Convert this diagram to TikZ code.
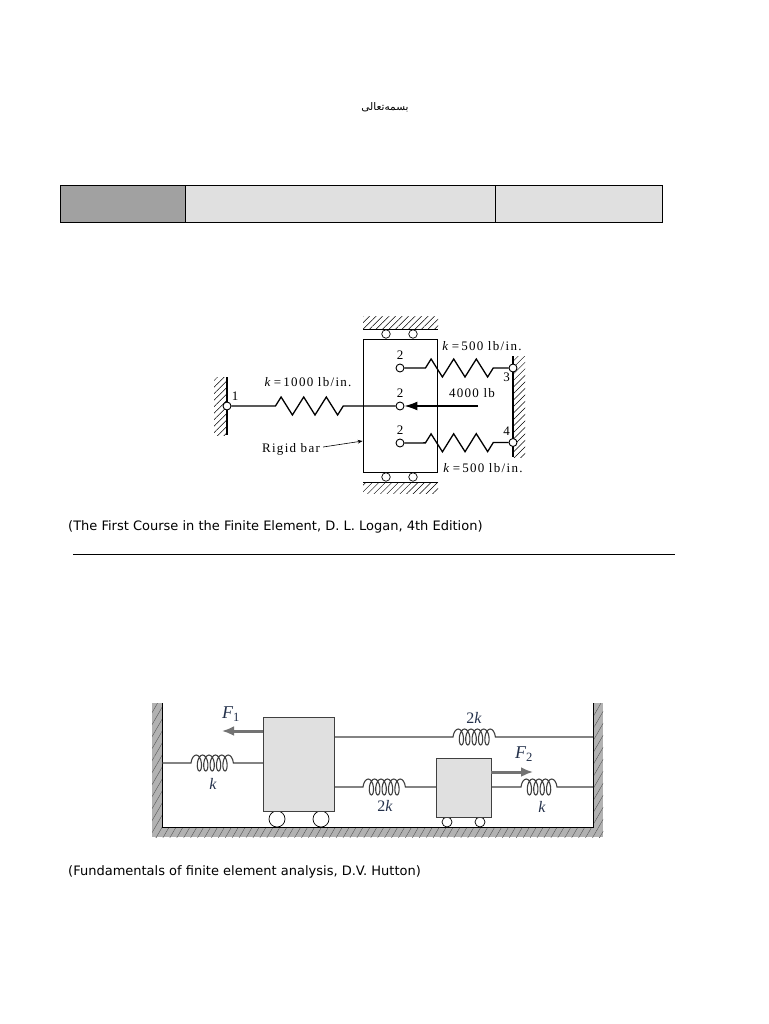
\documentclass[tikz,border=0pt]{standalone}
\usepackage{fontspec}
\usepackage{tikz}
\usetikzlibrary{arrows.meta}
\usetikzlibrary{decorations.pathmorphing}
\usetikzlibrary{patterns.meta}
\setmainfont{Liberation Serif}
\newfontfamily\labelfont[LetterSpace=10]{Liberation Serif}
\newfontfamily\captionfont{DejaVu Sans}
\newfontfamily\arabicfont[Script=Arabic]{DejaVu Sans}
\TeXXeTstate=1
\definecolor{inkblue}{HTML}{23304A}
\tikzset{
  joint/.style={circle,draw,fill=white,inner sep=0pt,minimum size=8pt,line width=.9pt},
  roller/.style={circle,draw,fill=white,inner sep=0pt,line width=.7pt},
  zigspring/.style 2 args={line width=1.3pt,decoration={zigzag,segment length=22.6pt,amplitude=9pt,pre length=#1,post length=#2},decorate},
  coilspring/.style 2 args={line width=1.1pt,draw=black!75,decoration={coil,aspect=.45,segment length=6.4pt,amplitude=8pt,pre length=#1,post length=#2},decorate},
  hatchA/.style={pattern={Lines[angle=45,distance=4.6pt,line width=.5pt]}},
  hatchB/.style={fill=black!30,postaction={pattern={Lines[angle=60,distance=6pt,line width=.35pt]},pattern color=black!70}},
  mass/.style={draw=black!75,fill=black!12,inner sep=0pt,line width=.8pt},
  force/.style={-{Latex[length=12pt,width=10pt]},line width=3pt,draw=black!55},
  lbl/.style={font=\labelfont\fontsize{13}{13}\selectfont,inner sep=0pt},
  blbl/.style={font=\fontsize{16}{16}\selectfont,text=inkblue,inner sep=0pt},
  capline/.style={font=\captionfont\fontsize{13}{13}\selectfont,anchor=west,inner sep=0pt},
}
\begin{document}
\begin{tikzpicture}[x=1pt,y=-1pt]
\useasboundingbox (0,0) rectangle (768,1024);
\node[font=\arabicfont\fontsize{10.5}{10.5}\selectfont,inner sep=0pt] (title) at (385,107) {\beginR بسمه‌تعالی\endR};
% header table
\draw[fill=black!37,line width=.8pt] (60,185) rectangle (185,222);
\draw[fill=black!12,line width=.8pt] (185,185) rectangle (495,222);
\draw[fill=black!12,line width=.8pt] (495,185) rectangle (662,222);
% first figure: walls
\fill[hatchA] (363,316) rectangle (438,329);
\draw[line width=1pt] (363,329) -- (438,329);
\fill[hatchA] (363,482) rectangle (438,493);
\draw[line width=1pt] (363,482) -- (438,482);
\fill[hatchA] (214,377) rectangle (227,435);
\draw[line width=1.2pt] (227,377) -- (227,435);
\fill[hatchA] (513,356) rectangle (525,457);
\draw[line width=1.4pt] (513,356) -- (513,457);
% first figure: rigid bar and rollers
\node[draw,line width=.8pt,inner sep=0pt,minimum width=74pt,minimum height=133pt] (bar) at (400,405.5) {};
\foreach \n/\x/\y in {rta/386/334, rtb/413/334, rba/386/477, rbb/413/477}
  \node[roller,minimum size=8.5pt] (\n) at (\x,\y) {};
% first figure: joints
\node[joint] (one) at (227,406) {};
\node[joint] (twoa) at (400,368) {};
\node[joint] (twob) at (400,406) {};
\node[joint] (twoc) at (400,443) {};
\node[joint] (three) at (513,368) {};
\node[joint] (four) at (513,442.5) {};
\draw[zigspring={44pt}{50pt}] (one) -- (twob);	% k=1000
\draw[zigspring={21pt}{14pt}] (twoa) -- (three);
\draw[zigspring={21pt}{14pt}] (twoc) -- (four);
\coordinate (loadtail) at (478,406);
\draw[-{Latex[length=13pt,width=9pt]},line width=1.3pt] (loadtail) -- (twob);
% first figure: labels
\node[lbl] (ka) at (308,382) {\textit{k}\,=\,1000 lb/in.};
\node[lbl] (kb) at (482,346) {\textit{k}\,=\,500 lb/in.};
\node[lbl] (kc) at (483,468) {\textit{k}\,=\,500 lb/in.};
\node[lbl] (load) at (472,393) {4000 lb};
\foreach \n/\x/\y/\lab in {la/235/396/1, lb/400/355/2, lc/400/393/2, ld/400/430/2, le/506.5/377/3, lf/506.5/431/4}
  \node[lbl] (\n) at (\x,\y) {\lab};
\node[lbl] (rigid) at (291,449) {Rigid bar};
\draw[-{Stealth[length=5pt]},line width=.6pt] (rigid.east)+(3,-2) -- (bar.west|-0,441);
\node[capline] (capa) at (68,527) {(The First Course in the Finite Element, D. L. Logan, 4th Edition)};
\draw[line width=.8pt] (73,554) -- (675,554);	% separator
% second figure: walls and floor
\fill[hatchB] (152,703) rectangle (162,837);
\fill[hatchB] (593,703) rectangle (603,837);
\fill[hatchB] (152,827) rectangle (603,837);
\draw[line width=.9pt] (162,703) -- (162,827) -- (593,827) -- (593,703);
% second figure: masses and wheels
\foreach \n/\x/\y/\dia in {wa/277/819/16, wb/321/819/16, wc/447/822/10, wd/480/822/10}
  \node[roller,minimum size=\dia pt] (\n) at (\x,\y) {};
\node[mass,minimum width=71pt,minimum height=94pt] (massa) at (298.5,764) {};
\node[mass,minimum width=55pt,minimum height=59pt] (massb) at (463.5,787.5) {};
% second figure: springs
\coordinate (wallla) at (162,763);
\coordinate (wallra) at (593,737);
\coordinate (wallrb) at (593,787);
\coordinate (massat) at (334,737);
\coordinate (massal) at (263,763);
\coordinate (massam) at (334,787);
\coordinate (massbl) at (436,787);
\coordinate (massbr) at (491,787);
\draw[coilspring={29pt}{29pt}] (wallla) -- (massal);
\draw[coilspring={29pt}{29pt}] (massam) -- (massbl);
\draw[coilspring={30pt}{30pt}] (massbr) -- (wallrb);
\draw[coilspring={119pt}{96pt}] (massat) -- (wallra);
% second figure: forces
\coordinate (fatip) at (222,731);
\coordinate (fatail) at (263,731);
\coordinate (fbtail) at (491,772);
\coordinate (fbtip) at (533,772);
\draw[force] (fatail) -- (fatip);
\draw[force] (fbtail) -- (fbtip);
% second figure: labels
\node[blbl,font=\fontsize{18}{18}\selectfont] (fa) at (231,714) {\textit{F}\textsubscript{1}};
\node[blbl,font=\fontsize{18}{18}\selectfont] (fb) at (524,754) {\textit{F}\textsubscript{2}};
\foreach \n/\x/\y/\lab in {kd/474/718/2, ke/385/806/2}
  \node[blbl] (\n) at (\x,\y) {\lab\textit{k}};
\node[blbl] (kf) at (213,784) {\textit{k}};
\node[blbl] (kg) at (542,807) {\textit{k}};
\node[capline] (capb) at (68,872) {(Fundamentals of finite element analysis, D.V.  Hutton)};
\end{tikzpicture}
\end{document}
